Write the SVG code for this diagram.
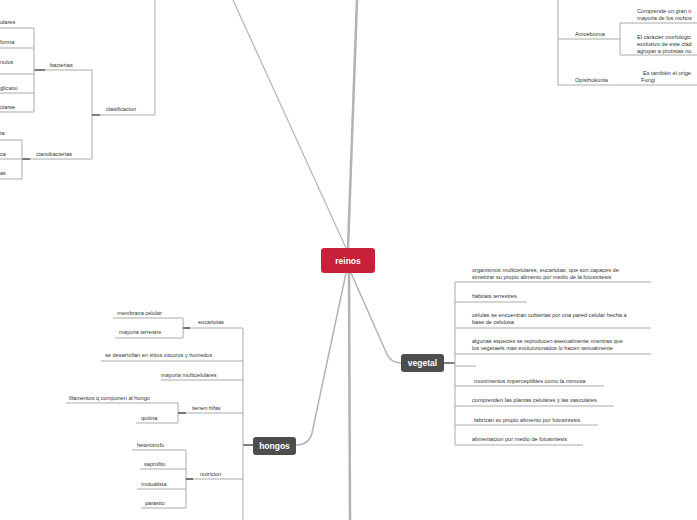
<svg xmlns="http://www.w3.org/2000/svg" width="697" height="520" viewBox="0 0 697 520">
<style>
text{font-family:"Liberation Sans",Arial,sans-serif;font-size:5.6px;fill:#333}
.l{stroke:#aaa;stroke-width:1;fill:none}
.d{stroke:#555;stroke-width:1.5;fill:none}
.m{stroke:#b3b3b3;fill:none}
.nt{font-size:8.5px;font-weight:bold;fill:#fff;text-anchor:middle}
</style>
<rect width="697" height="520" fill="#fff"/>
<g id="connectors">
<path class="m" stroke-width="1.2" d="M346,248 L233,0"/>
<path class="m" stroke-width="2.5" d="M348,248 L357,0"/>
<path class="m" stroke-width="2.5" d="M349,273 L350,520"/>
<path class="m" stroke-width="1.5" d="M346,273 L312,433 Q309,445 296,445"/>
<path class="m" stroke-width="1.5" d="M351,273 L386,352 Q390,363 401,363"/>
<!-- top-left -->
<path class="l" d="M155,0 V115 H100"/>
<path class="l" d="M92,115 V159 H22 M92,115 V70 H45"/>
<path class="d" d="M92,115 H100 M34,70 H45 M22,159 H30"/>
<path class="l" d="M0,28 H34 V112 H0 M0,48 H34 M0,74 H34 M0,93 H34"/>
<path class="l" d="M0,140 H22 V179 H0 M0,159 H22"/>
<!-- top-right -->
<path class="l" d="M558,0 V85 H697 M558,39 H620 M620,23 V55 M620,23 H697 M620,55 H697"/>
<!-- vegetal -->
<path class="d" d="M444,363 H455"/>
<path class="l" d="M455,282 V445 H583 M455,282 H651 M455,302 H527 M455,328 H651 M455,354 H651 M455,366 H476 M455,386 H604 M455,406 H614 M455,425 H598"/>
<!-- hongos -->
<path class="d" d="M243,445 H253"/>
<path class="l" d="M243,328 V520 M243,328 H183 M183,318 V338 M183,318 H113 M183,338 H115 M243,361 H101 M243,380 H161 M243,413 H178 M178,403 V423 M178,403 H66 M178,423 H136 M243,479 H186 M186,450 V508 M186,450 H132 M186,469 H140 M186,489 H137 M186,508 H141"/>
<path class="d" d="M183,328 H190 M178,413 H186 M186,479 H193"/>
</g>
<g id="reinos"><rect x="321" y="248" width="54" height="25" rx="3" fill="#c8203a"/><text class="nt" x="348" y="264">reinos</text></g>
<g id="vegetal"><rect x="401" y="354" width="43" height="18" rx="3" fill="#4d4d4d"/><text class="nt" x="422.5" y="366">vegetal</text></g>
<g id="hongos"><rect x="253" y="437" width="43" height="18" rx="3" fill="#4d4d4d"/><text class="nt" x="274.5" y="449">hongos</text></g>
<g id="clasificacion"><text x="106" y="111">clasificacion</text></g>
<g id="bacterias"><text x="50" y="67">bacterias</text>
<text x="0" y="24">ulares</text><text x="0" y="44">forma</text><text x="0" y="64">nulos</text><text x="0" y="90">glicano</text><text x="0" y="109">ctarse</text></g>
<g id="cianobacterias"><text x="36" y="156">cianobacterias</text>
<text x="0" y="135">ta</text><text x="0" y="156">ca</text><text x="0" y="175">as</text></g>
<g id="amoebozoa"><text x="575" y="36">Amoebozoa</text>
<text x="637" y="13">Comprende un gran n</text><text x="637" y="20">mayoria de los mohos</text>
<text x="637" y="39">El carácter morfológic</text><text x="637" y="46">exclusivo de este clad</text><text x="637" y="53">agrupar a protistas no</text></g>
<g id="opisthokonta"><text x="575" y="82">Opisthokonta</text><text x="643" y="75">Es también el orige</text><text x="641" y="82">Fungi</text></g>
<g id="veg-items">
<text x="472" y="272">organismos multicelulares, eucariotas, que son capaces de</text>
<text x="472" y="279">sintetizar su propio alimento por medio de la fotosintesis</text>
<text x="472" y="298">hábitats terrestres</text>
<text x="472" y="317">células se encuentran cubiertas por una pared celular hecha a</text>
<text x="472" y="324">base de celulosa</text>
<text x="472" y="343">algunas especies se reproducen asexualmente mientras que</text>
<text x="472" y="350">los vegetaels mas evolucvionados lo hacen sexualmente</text>
<text x="474" y="383">movimientos imperceptibles como la mimosa</text>
<text x="472" y="402">comprenden las plantas celulares y las vasculares</text>
<text x="474" y="422">fabrican su propio alimento por fotosintesis</text>
<text x="472" y="441">alimentacion por medio de fotosintesis</text>
</g>
<g id="hongos-items">
<text x="198" y="324">eucariotas</text>
<text x="117" y="315">membrana celular</text>
<text x="119" y="334">mayoria terrestre</text>
<text x="105" y="357">se desarrollan en sitios oscuros y humedos</text>
<text x="161" y="377">mayoria multicelulares</text>
<text x="192" y="410">tienen hifas</text>
<text x="69" y="400">filamentos q componen al hongo</text>
<text x="141" y="420">quitina</text>
<text x="200" y="476">nutricion</text>
<text x="137" y="447">heterotrofo</text>
<text x="144" y="466">saprofito</text>
<text x="141" y="486">mutualista</text>
<text x="145" y="505">parasito</text>
</g>
</svg>
